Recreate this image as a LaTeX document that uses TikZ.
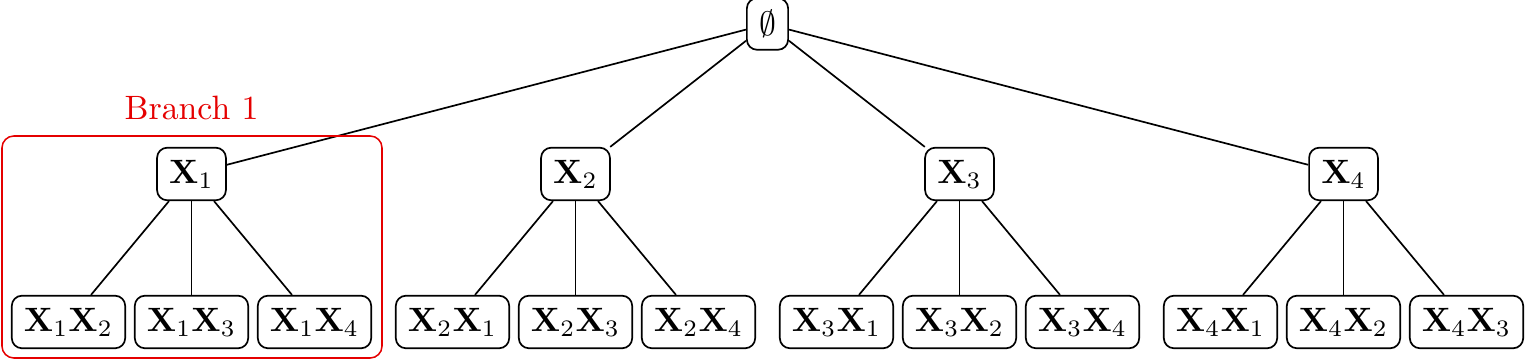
\documentclass[tikz,border=0pt]{standalone}
\begin{document}
\begin{tikzpicture}[x=0.296pt,y=-0.296pt,
  tnode/.style={draw,rounded corners=3pt,inner sep=3.6pt,line width=0.5pt},
  l2/.style={tnode,minimum height=15.4pt},
  edge/.style={line width=0.5pt}]
\useasboundingbox (0,0) rectangle (1527,364);
\node[tnode,minimum height=13.6pt] (r) at (767.5,24) {$\emptyset$};
\foreach \i/\x in {1/191.5,2/575.5,3/959.5,4/1343.5}{
  \node[l2] (a\i) at (\x,174) {$\mathbf{X}_{\i}$};
  \draw[edge] (r) -- (a\i);
}
\foreach \i/\x/\a/\b/\c in {1/191.5/2/3/4,2/575.5/1/3/4,3/959.5/1/2/4,4/1343.5/1/2/3}{
  \node[l2] (b\i\a) at (\x-123,322) {$\mathbf{X}_{\i}\mathbf{X}_{\a}$};
  \node[l2] (b\i\b) at (\x,322) {$\mathbf{X}_{\i}\mathbf{X}_{\b}$};
  \node[l2] (b\i\c) at (\x+123,322) {$\mathbf{X}_{\i}\mathbf{X}_{\c}$};
  \draw[edge] (a\i) -- (b\i\a);
  \draw[edge] (a\i) -- (b\i\b);
  \draw[edge] (a\i) -- (b\i\c);
}
\node[draw=red!90!black,line width=0.45pt,rounded corners=3.5pt,minimum width=380*0.296pt,minimum height=222*0.296pt,inner sep=0pt] (box) at (192,247) {};
\node[text=red!90!black,anchor=base] (lab) at (191.5,120) {Branch 1};
\end{tikzpicture}
\end{document}
